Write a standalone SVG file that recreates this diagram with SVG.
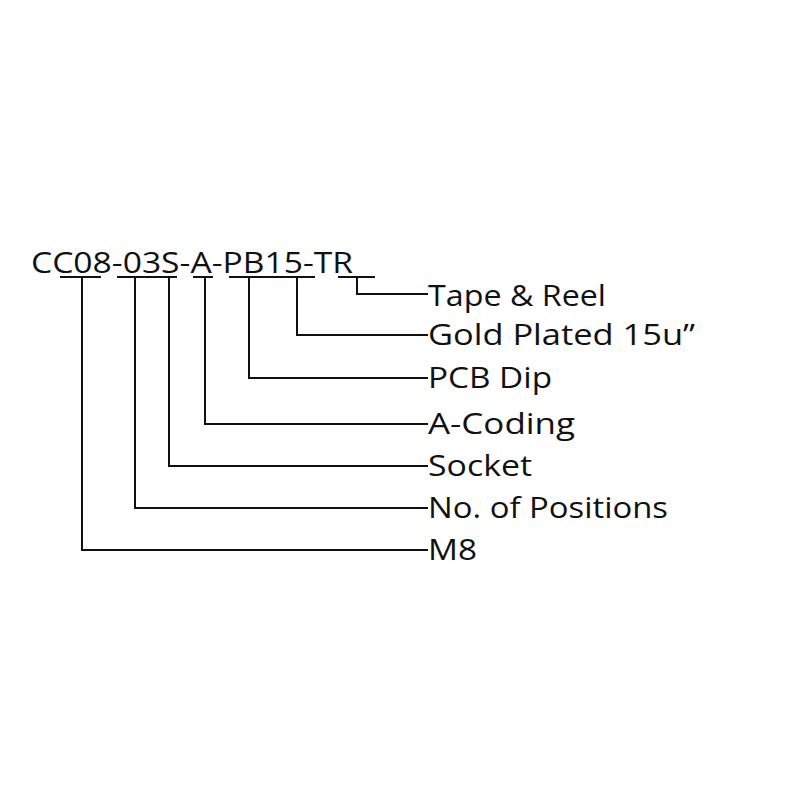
<svg xmlns="http://www.w3.org/2000/svg" width="800" height="800" viewBox="0 0 800 800">
<style>
text{font-family:"Open Sans","Liberation Sans",sans-serif;fill:#111;font-size:30px}
.c{fill:none;stroke:#111;stroke-width:2}
</style>
<rect width="800" height="800" fill="#fff"/>
<g id="code"><text x="31" y="273" font-size="32" textLength="322" lengthAdjust="spacingAndGlyphs">CC08-03S-A-PB15-TR</text></g>
<g id="connectors" class="c">
<path d="M60 277H101M117 277H177M193 277H213M229 277H315M338 277H375"/>
<path d="M357 277V294H428"/>
<path d="M297 277V335H428"/>
<path d="M249 277V378H428"/>
<path d="M205 277V424H428"/>
<path d="M169 277V466H428"/>
<path d="M135 277V508H428"/>
<path d="M82 277V550H428"/>
</g>
<g id="n1"><text x="428" y="306" textLength="178" lengthAdjust="spacingAndGlyphs">Tape &amp; Reel</text></g>
<g id="n2"><text x="428" y="345" textLength="267" lengthAdjust="spacingAndGlyphs">Gold Plated 15u”</text></g>
<g id="n3"><text x="428" y="388" textLength="124" lengthAdjust="spacingAndGlyphs">PCB Dip</text></g>
<g id="n4"><text x="428" y="434" textLength="147" lengthAdjust="spacingAndGlyphs">A-Coding</text></g>
<g id="n5"><text x="428" y="476" textLength="104" lengthAdjust="spacingAndGlyphs">Socket</text></g>
<g id="n6"><text x="428" y="518" textLength="240" lengthAdjust="spacingAndGlyphs">No. of Positions</text></g>
<g id="n7"><text x="428" y="560" textLength="49" lengthAdjust="spacingAndGlyphs">M8</text></g>
</svg>
